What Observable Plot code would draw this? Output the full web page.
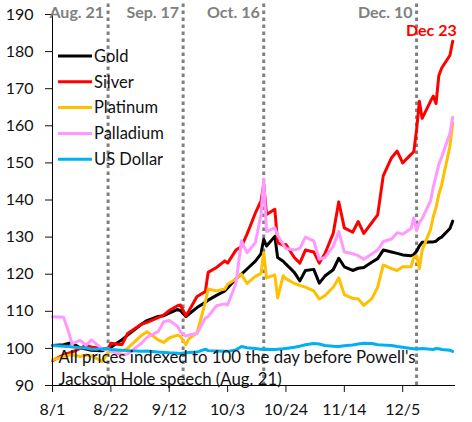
<!DOCTYPE html>
<html>
<head>
<meta charset="utf-8">
<script src="https://cdn.jsdelivr.net/npm/d3@7"></script>
<script src="https://cdn.jsdelivr.net/npm/@observablehq/plot@0.6"></script>
<style>
  html, body { margin: 0; padding: 0; background: #fff; }
  #chart { width: 472px; height: 422px; }
</style>
</head>
<body>
<div id="chart"></div>
<script>
const dates = [
  "2025-08-01","2025-08-05","2025-08-07","2025-08-08","2025-08-11","2025-08-13","2025-08-15","2025-08-19","2025-08-21","2025-08-22",
  "2025-08-26","2025-08-28","2025-09-02","2025-09-04","2025-09-08","2025-09-10","2025-09-12","2025-09-15","2025-09-16","2025-09-18",
  "2025-09-19","2025-09-22","2025-09-25","2025-09-26","2025-09-29","2025-10-02","2025-10-03","2025-10-06","2025-10-08","2025-10-10",
  "2025-10-13","2025-10-15","2025-10-16","2025-10-17","2025-10-20","2025-10-21","2025-10-23","2025-10-24","2025-10-27","2025-10-29",
  "2025-10-31","2025-11-03","2025-11-05","2025-11-07","2025-11-10","2025-11-12","2025-11-14","2025-11-17","2025-11-19","2025-11-21",
  "2025-11-24","2025-11-26","2025-11-28","2025-12-01","2025-12-03","2025-12-05","2025-12-08","2025-12-09","2025-12-10","2025-12-11",
  "2025-12-12","2025-12-15","2025-12-16","2025-12-17","2025-12-18","2025-12-19","2025-12-22","2025-12-23"
];
const gold = [
  100.8, 101.0, 101.4, 101.5, 100.1, 99.8, 99.5, 99.4, 100.0, 100.3,
  102.3, 103.6, 106.5, 107.5, 108.6, 108.8, 109.5, 110.5, 110.2, 108.6,
  109.2, 111.0, 112.4, 113.0, 114.3, 115.5, 116.3, 118.8, 120.0, 121.4,
  123.5, 125.5, 129.4, 127.6, 130.2, 124.5, 123.5, 122.7, 120.5, 118.2,
  121.0, 121.3, 117.6, 119.5, 121.2, 124.3, 122.0, 121.0, 121.6, 121.8,
  123.3, 124.2, 126.5, 126.0, 125.6, 125.2, 125.0, 125.3, 126.2, 127.6,
  128.6, 128.7, 128.7, 128.9, 129.6, 130.0, 132.3, 134.3
];
const silver = [
  96.7, 98.3, 98.8, 99.0, 100.0, 100.8, 100.4, 99.9, 100.0, 101.4,
  101.0, 104.0, 106.5, 107.0, 108.3, 109.0, 110.2, 111.5, 111.7, 108.8,
  110.0, 114.0, 115.3, 120.5, 121.8, 123.6, 123.0, 126.5, 127.5, 130.8,
  136.5, 139.7, 144.2, 136.1, 137.5, 128.5, 127.8, 128.0, 124.5, 123.0,
  126.5, 126.0, 123.0, 125.5, 131.0, 139.5, 132.5, 131.3, 134.2, 131.0,
  134.0, 136.0, 146.5, 151.4, 153.2, 150.0, 152.3, 153.0, 159.0, 166.6,
  162.0, 166.6, 168.0, 166.0, 173.5, 175.5, 179.0, 182.8
];
const platinum = [
  96.9, 97.8, 98.2, 98.3, 97.8, 98.2, 98.0, 96.5, 99.0, 99.1,
  99.3, 100.0, 103.5, 104.5, 102.3, 101.6, 102.8, 103.6, 103.2, 101.0,
  102.5, 104.2, 112.5, 116.0, 115.5, 116.0, 117.3, 118.7, 120.0, 117.5,
  119.4, 120.2, 125.8, 119.0, 119.8, 113.6, 119.6, 118.8, 117.5, 117.0,
  116.5, 115.5, 113.3, 114.2, 116.5, 119.0, 114.5, 113.5, 113.3, 111.6,
  113.5, 116.5, 122.5, 121.5, 121.0, 122.0, 122.0, 124.5, 125.0, 121.5,
  126.5, 132.0, 135.5, 138.0, 141.5, 144.0, 154.5, 160.8
];
const palladium = [
  108.5, 108.4, 104.0, 101.2, 102.2, 100.8, 102.3, 99.8, 99.6, 99.3,
  98.2, 98.5, 101.4, 103.0, 104.5, 107.2, 107.5, 106.0, 104.5, 103.3,
  103.6, 104.0, 108.2, 108.6, 111.5, 112.0, 111.7, 117.5, 129.0, 125.8,
  128.5, 136.0, 145.6, 131.5, 132.5, 130.5, 128.0, 126.9, 126.5, 127.0,
  130.0, 129.0, 124.0, 124.5, 127.5, 131.5, 126.0, 125.5, 125.0, 124.0,
  125.5, 126.5, 128.8, 129.5, 131.2, 130.8, 132.3, 135.2, 131.7, 134.0,
  135.0, 139.7, 143.5, 146.5, 149.6, 151.5, 158.0, 162.3
];
const usDollar = [
  100.8, 100.6, 100.5, 100.4, 100.2, 100.1, 99.8, 99.8, 100.0, 99.7,
  99.5, 99.4, 99.2, 99.3, 99.0, 98.9, 98.8, 98.7, 98.6, 98.8,
  98.9, 99.0, 99.8, 99.4, 99.3, 99.2, 99.2, 99.6, 100.5, 100.2,
  100.0, 99.8, 99.7, 99.8, 99.7, 99.8, 99.9, 100.0, 100.3, 100.6,
  101.0, 101.3, 101.2, 100.8, 100.6, 100.5, 100.7, 100.9, 101.2, 101.4,
  101.3, 101.0, 100.9, 100.8, 100.5, 100.3, 100.0, 99.9, 99.8, 99.9,
  100.0, 99.8, 99.7, 100.0, 99.9, 99.7, 99.5, 99.2
];
const seriesNames = ["Gold", "Silver", "Platinum", "Palladium", "US Dollar"];
const seriesColors = ["#000000", "#FF0000", "#FFC000", "#FF99FF", "#00B0F0"];
const seriesValues = [gold, silver, platinum, palladium, usDollar];

const eventDates = ["2025-08-21", "2025-09-17", "2025-10-16", "2025-12-10"];
const eventLabels = ["Aug. 21", "Sep. 17", "Oct. 16", "Dec. 10"];

const xTickDates = ["2025-08-01","2025-08-22","2025-09-12","2025-10-03","2025-10-24","2025-11-14","2025-12-05"];
const yTicks = [90, 100, 110, 120, 130, 140, 150, 160, 170, 180, 190];
const endLabel = "Dec 23";
const noteLines = ["All prices indexed to 100 the day before Powell's", "Jackson Hole speech (Aug. 21)"];

const parse = s => new Date(s + "T00:00:00Z");

const rows = [];
seriesNames.forEach((name, i) => {
  dates.forEach((d, j) => rows.push({date: parse(d), value: seriesValues[i][j], series: name}));
});
const events = eventDates.map((d, i) => ({date: parse(d), label: eventLabels[i]}));
const silverLast = {date: parse(dates[dates.length - 1]), value: silver[silver.length - 1]};
const xStart = parse("2025-08-01"), xEnd = parse("2025-12-24");

const chart = Plot.plot({
  width: 472,
  height: 422,
  marginLeft: 52,
  marginRight: 17,
  marginTop: 14,
  marginBottom: 37,
  style: {fontFamily: "Lato, 'Open Sans', sans-serif", fontSize: "16px", color: "#111", background: "#fff", overflow: "visible"},
  x: {type: "utc", domain: [xStart, xEnd]},
  y: {domain: [90, 190]},
  color: {domain: seriesNames, range: seriesColors},
  marks: [
    Plot.ruleX(events, {x: "date", y1: 90, y2: 193, stroke: "#808080", strokeWidth: 3, strokeDasharray: "3.5,3.5"}),
    Plot.line(rows, {x: "date", y: "value", z: "series", stroke: "series", strokeWidth: 3, strokeLinejoin: "round"}),
    Plot.ruleY([90], {x1: xStart, x2: xEnd, stroke: "#000", strokeWidth: 1}),
    Plot.ruleX([xStart], {y1: 90, y2: 190, stroke: "#000", strokeWidth: 1}),
    Plot.axisY({ticks: yTicks, tickSize: 7, tickPadding: 12, label: null, fontSize: 16}),
    Plot.axisX({ticks: xTickDates.map(parse), tickSize: 7, tickPadding: 11, label: null, fontSize: 16,
      tickFormat: d => `${d.getUTCMonth() + 1}/${d.getUTCDate()}`}),
    Plot.text(events, {x: "date", y: 190, text: "label", textAnchor: "end", dx: -4, dy: -2,
      fill: "#808080", fontWeight: "bold", fontSize: 16}),
    Plot.text([silverLast], {x: "date", y: "value", text: () => endLabel, textAnchor: "end", dx: 4, dy: -10,
      fill: "#FF0000", fontWeight: "bold", fontSize: 16}),
    Plot.text([noteLines[0]], {frameAnchor: "bottom-left", text: d => d, textAnchor: "start", lineAnchor: "middle",
      dx: 6, dy: -28, fill: "#111", fontSize: 16.8}),
    Plot.text([noteLines[1]], {frameAnchor: "bottom-left", text: d => d, textAnchor: "start", lineAnchor: "middle",
      dx: 6, dy: -6, fill: "#111", fontSize: 16.8})
  ]
});

// legend inside the plot area (top-left)
const svg = d3.select(chart);
const lg = svg.append("g").attr("class", "legend").attr("text-anchor", "start");
seriesNames.forEach((name, i) => {
  const y = 56 + i * 25.8;
  lg.append("line").attr("x1", 58).attr("x2", 92).attr("y1", y).attr("y2", y)
    .attr("stroke", seriesColors[i]).attr("stroke-width", 3);
  lg.append("text").attr("x", 94).attr("y", y).attr("dy", "0.35em").attr("text-anchor", "start")
    .attr("font-size", 16.5).attr("fill", "#111").text(name);
});

document.getElementById("chart").appendChild(chart);
</script>
</body>
</html>
